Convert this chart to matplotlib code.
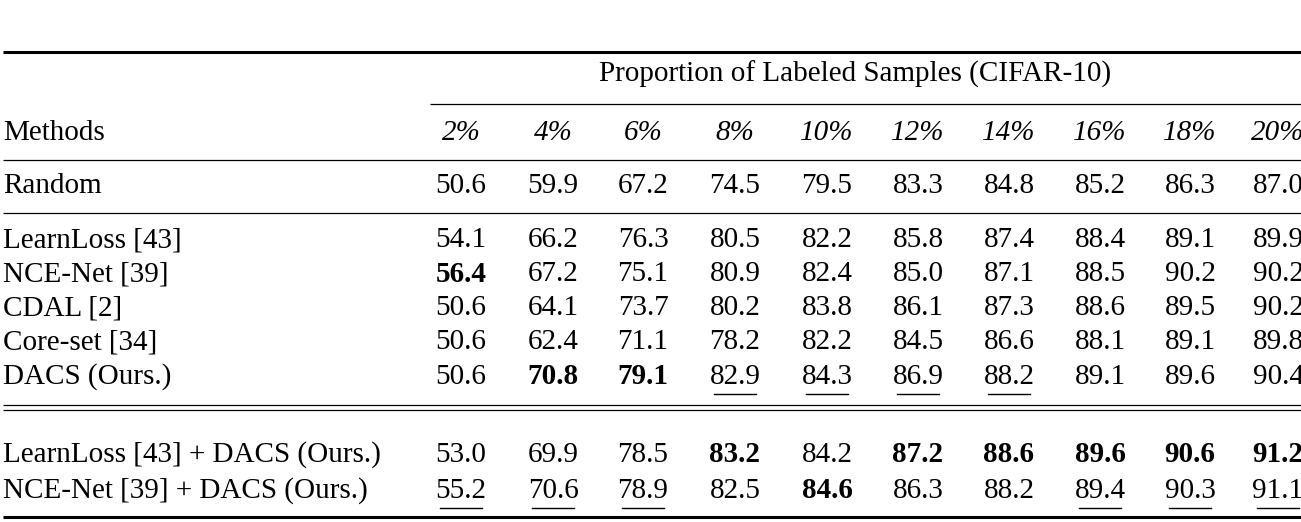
import matplotlib
matplotlib.use("Agg")
import matplotlib.pyplot as plt

columns = ["2%", "4%", "6%", "8%", "10%", "12%", "14%", "16%", "18%", "20%"]
methods = ["Random", "LearnLoss [43]", "NCE-Net [39]", "CDAL [2]", "Core-set [34]",
           "DACS (Ours.)", "LearnLoss [43] + DACS (Ours.)", "NCE-Net [39] + DACS (Ours.)"]
values = [
    [50.6, 59.9, 67.2, 74.5, 79.5, 83.3, 84.8, 85.2, 86.3, 87.0],
    [54.1, 66.2, 76.3, 80.5, 82.2, 85.8, 87.4, 88.4, 89.1, 89.9],
    [56.4, 67.2, 75.1, 80.9, 82.4, 85.0, 87.1, 88.5, 90.2, 90.2],
    [50.6, 64.1, 73.7, 80.2, 83.8, 86.1, 87.3, 88.6, 89.5, 90.2],
    [50.6, 62.4, 71.1, 78.2, 82.2, 84.5, 86.6, 88.1, 89.1, 89.8],
    [50.6, 70.8, 79.1, 82.9, 84.3, 86.9, 88.2, 89.1, 89.6, 90.4],
    [53.0, 69.9, 78.5, 83.2, 84.2, 87.2, 88.6, 89.6, 90.6, 91.2],
    [55.2, 70.6, 78.9, 82.5, 84.6, 86.3, 88.2, 89.4, 90.3, 91.1],
]
# B = bold, U = underline
marks = [
    "..........",
    "..........",
    "B.........",
    "..........",
    "..........",
    ".BBUUUU...",
    "...B.BBBBB",
    "UUU.B..UUU",
]

fig = plt.figure(figsize=(13.01, 5.22), dpi=100)
ax = fig.add_axes([0, 0, 1, 1])
ax.set_xlim(0, 1301)
ax.set_ylim(522, 0)
ax.axis("off")
fam = "Liberation Serif"
fs = 21

col_x = [461, 553, 643, 735, 827, 918, 1009, 1100, 1190, 1278]
row_y = [186, 240, 274, 308, 342, 377, 455, 491]

def hline(y, x0=3, x1=1301, lw=1.2):
    ax.plot([x0, x1], [y, y], color="black", lw=lw, solid_capstyle="butt")

hline(52, lw=2.2)
hline(104, x0=430, lw=0.9)
hline(160, lw=0.9)
hline(213, lw=0.9)
hline(405, lw=0.9)
hline(410, lw=0.9)
hline(517, lw=2.2)

ax.text(855, 74, "Proportion of Labeled Samples (CIFAR-10)", ha="center", va="center",
        fontsize=fs, family=fam)
ax.text(3, 133, "Methods", ha="left", va="center", fontsize=fs, family=fam)
for x, c in zip(col_x, columns):
    ax.text(x, 133, c, ha="center", va="center", fontsize=fs, family=fam, style="italic")

for y, m, vals, mk in zip(row_y, methods, values, marks):
    ax.text(3, y, m, ha="left", va="center", fontsize=fs, family=fam)
    for x, v, k in zip(col_x, vals, mk):
        ax.text(x, y, f"{v:.1f}", ha="center", va="center", fontsize=fs, family=fam,
                weight="bold" if k == "B" else "normal")
        if k == "U":
            ax.plot([x - 21, x + 21], [y + 17, y + 17], color="black", lw=1.0)

fig.savefig("out.png", dpi=100)
